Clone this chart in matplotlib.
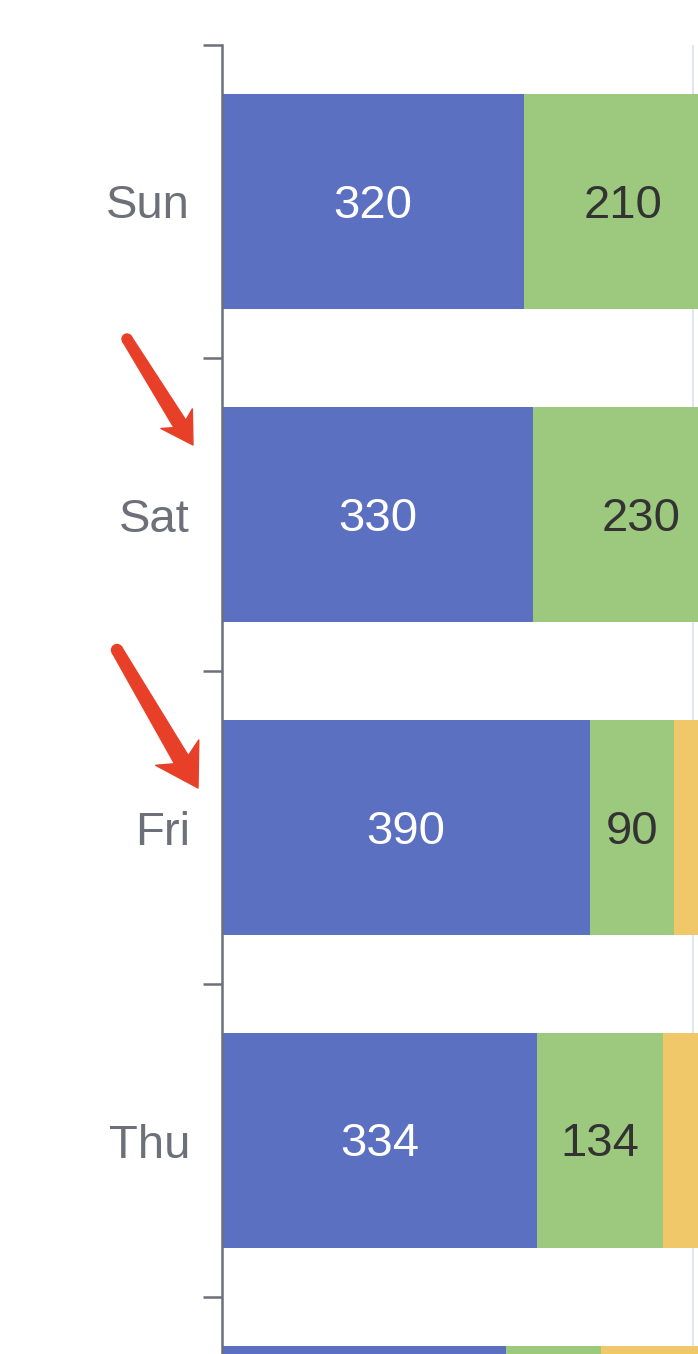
import numpy as np
import matplotlib.pyplot as plt
import matplotlib.patches as mpatches

# DATA -------------
days = ["Mon", "Tue", "Wed", "Thu", "Fri", "Sat", "Sun"]
direct = [320, 302, 301, 334, 390, 330, 320]
mail_ad = [120, 132, 101, 134, 90, 230, 210]
affiliate_ad = [220, 182, 191, 234, 290, 330, 310]
video_ad = [150, 212, 201, 154, 190, 330, 410]
search_engine = [820, 832, 901, 934, 1290, 1330, 1320]

series = [direct, mail_ad, affiliate_ad, video_ad, search_engine]
names = ["Direct", "Mail Ad", "Affiliate Ad", "Video Ad", "Search Engine"]

# COLORS -----------
colors = ["#5B70C0", "#9DC97E", "#F0C86A", "#EE6666", "#73C0DE"]
label_colors = ["white", "#333333", "#333333", "white", "#333333"]
axis_grey = "#6E7079"
grid_color = "#E0E6F1"
arrow_red = "#E84028"

W, H = 698, 1354
plt.rcParams["font.family"] = ["Liberation Sans", "DejaVu Sans"]

fig = plt.figure(figsize=(W / 100, H / 100), dpi=100)

# the picture is a crop of a bigger chart: the axes runs off right and bottom
px_per_unit = 0.9426
band_px = 313.0
x_max = 3500
left_px, top_px = 222, 45
ax_w = x_max * px_per_unit
ax_h = 7 * band_px
ax = fig.add_axes([left_px / W, (H - top_px - ax_h) / H, ax_w / W, ax_h / H])
ax.set_xlim(0, x_max)
ax.set_ylim(-0.5, 6.5)


def on_canvas(x, y):
    px, py = ax.transData.transform((x, y))
    return 0 <= px <= W and 0 <= py <= H


y = list(range(len(days)))
left = [0] * len(days)
for vals, name, c, lc in zip(series, names, colors, label_colors):
    ax.barh(y, vals, left=left, height=0.689, color=c, label=name, zorder=2)
    for yi, l, v in zip(y, left, vals):
        cx = l + v / 2
        if on_canvas(cx, yi):  # only the labels that fall inside the crop
            ax.annotate(str(v), (cx, yi), xytext=(0, -4), textcoords="offset pixels",
                        ha="center", va="center", color=lc, fontsize=34, zorder=4)
    left = [a + b for a, b in zip(left, vals)]

# axes styling
for s in ["top", "right", "bottom"]:
    ax.spines[s].set_visible(False)
ax.spines["left"].set_color(axis_grey)
ax.spines["left"].set_linewidth(1.8)
ax.spines["left"].set_zorder(3)

ax.set_xticks(range(0, x_max + 1, 500))
ax.tick_params(axis="x", length=0, labelbottom=False)
ax.grid(axis="x", color=grid_color, linewidth=1.5, zorder=0)
ax.set_axisbelow(True)

ax.set_yticks(y)
ax.set_yticklabels(days, fontsize=34, color=axis_grey)
ax.tick_params(axis="y", length=0, pad=23)
ax.set_yticks([i + 0.5 for i in range(-1, 7)], minor=True)
ax.tick_params(axis="y", which="minor", length=13.5, width=1.8, color=axis_grey)

# hide the day labels that sit below the crop
for yi, lab in zip(y, ax.get_yticklabels()):
    if not on_canvas(0, yi):
        lab.set_visible(False)


# red arrows drawn over the screenshot (pixel coords from top-left)
def red_arrow(tail, tip, w0, w1, hl, hw):
    tail = np.array(tail, float)
    tip = np.array(tip, float)
    u = (tip - tail) / np.linalg.norm(tip - tail)
    n = np.array([-u[1], u[0]])
    base = tip - u * hl
    neck = tip - u * hl * 0.8
    pts = [tail + n * w0 / 2, neck + n * w1 / 2, base + n * hw / 2, tip,
           base - n * hw / 2, neck - n * w1 / 2, tail - n * w0 / 2]
    pts = [(p[0] / W, 1 - p[1] / H) for p in pts]
    fig.patches.append(mpatches.Polygon(pts, closed=True, transform=fig.transFigure,
                                        facecolor=arrow_red, edgecolor=arrow_red,
                                        linewidth=1, joinstyle="round"))
    # rounded tail end
    fig.patches.append(mpatches.Ellipse((tail[0] / W, 1 - tail[1] / H), w0 / W, w0 / H,
                                        transform=fig.transFigure, color=arrow_red))


red_arrow((127, 339), (193, 445), 10, 14, 31, 37)
red_arrow((117, 650), (198, 788), 11, 16, 41, 50)

fig.savefig("out.png", dpi=100)
